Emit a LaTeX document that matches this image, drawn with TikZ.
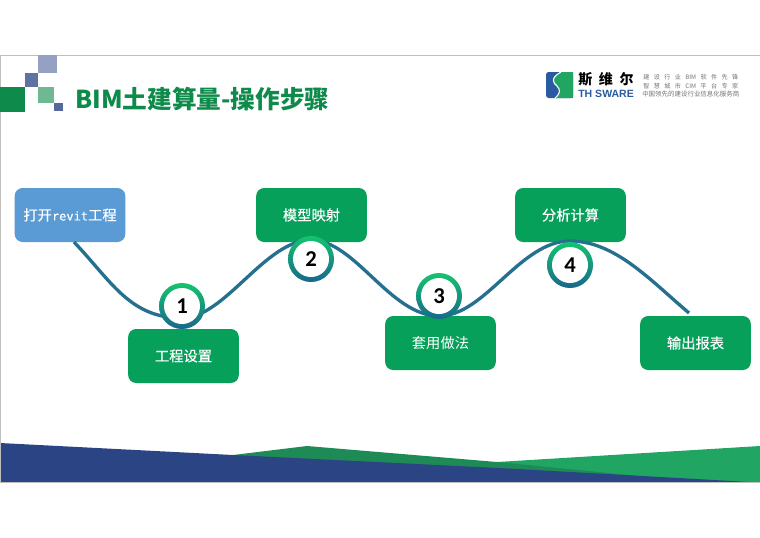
\documentclass[tikz,border=0pt]{standalone}
\usepackage{fontspec}
\setmainfont{Noto Sans CJK SC}
\newfontfamily\midfont[FakeBold=0.35]{Noto Sans CJK SC}
\newfontfamily\monofont[FakeBold=0.35]{DejaVu Sans Mono}
\newfontfamily\digitfont{Carlito}
\newfontfamily\arialfont{Liberation Sans}
\newcommand{\sloganfont}{\fontsize{4.6}{5}\selectfont\spaceskip 3.3pt\relax}
\usetikzlibrary{positioning,calc}
\definecolor{boxgreen}{HTML}{07A05A}
\definecolor{boxblue}{HTML}{5B9BD5}
\definecolor{wavecolor}{HTML}{25708F}
\definecolor{ringtop}{HTML}{14C46E}
\definecolor{ringbottom}{HTML}{18688C}
\definecolor{titlegreen}{HTML}{0E8A4A}
\definecolor{bandnavy}{HTML}{2A4484}
\definecolor{banddark}{HTML}{1E8A55}
\definecolor{bandlight}{HTML}{20A562}
\definecolor{logoblue}{HTML}{2A5AA0}
\tikzstyle{block} = [rectangle, fill=boxgreen, text=white, text centered, rounded corners=6pt, minimum width=83pt, minimum height=40.5pt, font=\fontsize{10.7}{12}\midfont]
\tikzstyle{ring} = [circle, minimum size=34.5pt, inner sep=0pt, top color=ringtop, bottom color=ringbottom]
\tikzstyle{badge} = [circle, fill=white, minimum size=27pt, inner sep=0pt, font=\fontsize{17}{18}\digitfont\bfseries]
\tikzstyle{slogan} = [inner sep=0pt, anchor=west, text=black!55, font=\sloganfont]
\begin{document}
\begin{tikzpicture}[x=0.75pt, y=-0.75pt]
    \useasboundingbox (0,0) rectangle (760,537);
    % bands at the foot of the slide
    \fill[bandlight] (497,462) -- (760,446) -- (760,482) -- (497,482) -- cycle;
    \fill[banddark] (233,455) -- (307,446) -- (497,462) -- (700,482) -- (233,482) -- cycle;
    \fill[bandnavy] (0,443) -- (233,455) -- (499,468) -- (750,482) -- (0,482) -- cycle;
    \draw[black!25] (0,482) -- (0,55) -- (760,55) -- (760,482) -- cycle;

    % corner squares
    \fill[bandnavy!50] (38,55) rectangle (57,73);
    \fill[bandnavy!75] (25,73) rectangle (38,87);
    \fill[titlegreen] (0,87) rectangle (25,112);
    \fill[titlegreen!60] (38,87) rectangle (54,103);
    \fill[bandnavy!80] (54,103) rectangle (63,111);
    \node[anchor=west, inner sep=0pt, text=titlegreen, font=\fontsize{18.5}{20}\selectfont\bfseries] (title) at (75,99) {BIM土建算量-操作步骤};

    % logo
    \fill[logoblue, rounded corners=2pt] (546,72) rectangle (573,98);
    \fill[bandlight] (561,72) .. controls (550,78) and (553,83) .. (557,86) .. controls (561,90) and (560,94) .. (555,98) -- (573,98) -- (573,72) -- cycle;
    \draw[white, line width=0.8pt] (561,72) .. controls (550,78) and (553,83) .. (557,86) .. controls (561,90) and (560,94) .. (555,98);
    \node[anchor=west, inner sep=0pt, font=\fontsize{10.5}{12}\selectfont\bfseries] (logoname) at (578,79.5) {斯\hspace{5pt}维\hspace{5pt}尔};
    \node[anchor=west, inner sep=0pt, text=logoblue, font=\fontsize{7.9}{9}\arialfont\bfseries] (logoen) at (578,93.5) {TH SWARE};
    \node[slogan] (slogan1) at (643,77) {建 设 行 业 BIM 软 件 先 锋};
    \node[slogan] (slogan2) at (643,86) {智 慧 城 市 CIM 平 台 专 家};
    \node[slogan, font=\fontsize{4.85}{5}\selectfont] (slogan3) at (642,94.5) {中国领先的建设行业信息化服务商};

    % steps
    \node[block, fill=boxblue] (open) at (70,215) {打开{\monofont\fontsize{9}{12}\selectfont revit}工程};
    \node[block] (setup) at (183.5,356) {工程设置};
    \node[block] (mapping) at (311.5,215) {模型映射};
    \node[block, font=\fontsize{10.7}{12}\selectfont] (method) at (440.5,343) {套用做法};
    \node[block] (calc) at (570.5,215) {分析计算};
    \node[block] (report) at (695.5,343) {输出报表};

    \coordinate (wavestart) at (74,242);
    \coordinate (waveend) at (689,313);
    \draw[wavecolor, line width=2.5pt] (wavestart) .. controls (112,282) and (130,318) .. (182,318)
        .. controls (225,318) and (265,240) .. (311,240)
        .. controls (355,240) and (390,316) .. (439,316)
        .. controls (485,316) and (520,241) .. (570,241)
        .. controls (615,241) and (650,280) .. (waveend);

    \node[ring] (ring1) at (182,306) {};
    \node[badge] (num1) at (ring1) {1};
    \node[ring] (ring2) at (311,259) {};
    \node[badge] (num2) at (ring2) {2};
    \node[ring] (ring3) at (439,296) {};
    \node[badge] (num3) at (ring3) {3};
    \node[ring] (ring4) at (570,265) {};
    \node[badge] (num4) at (ring4) {4};
\end{tikzpicture}
\end{document}
